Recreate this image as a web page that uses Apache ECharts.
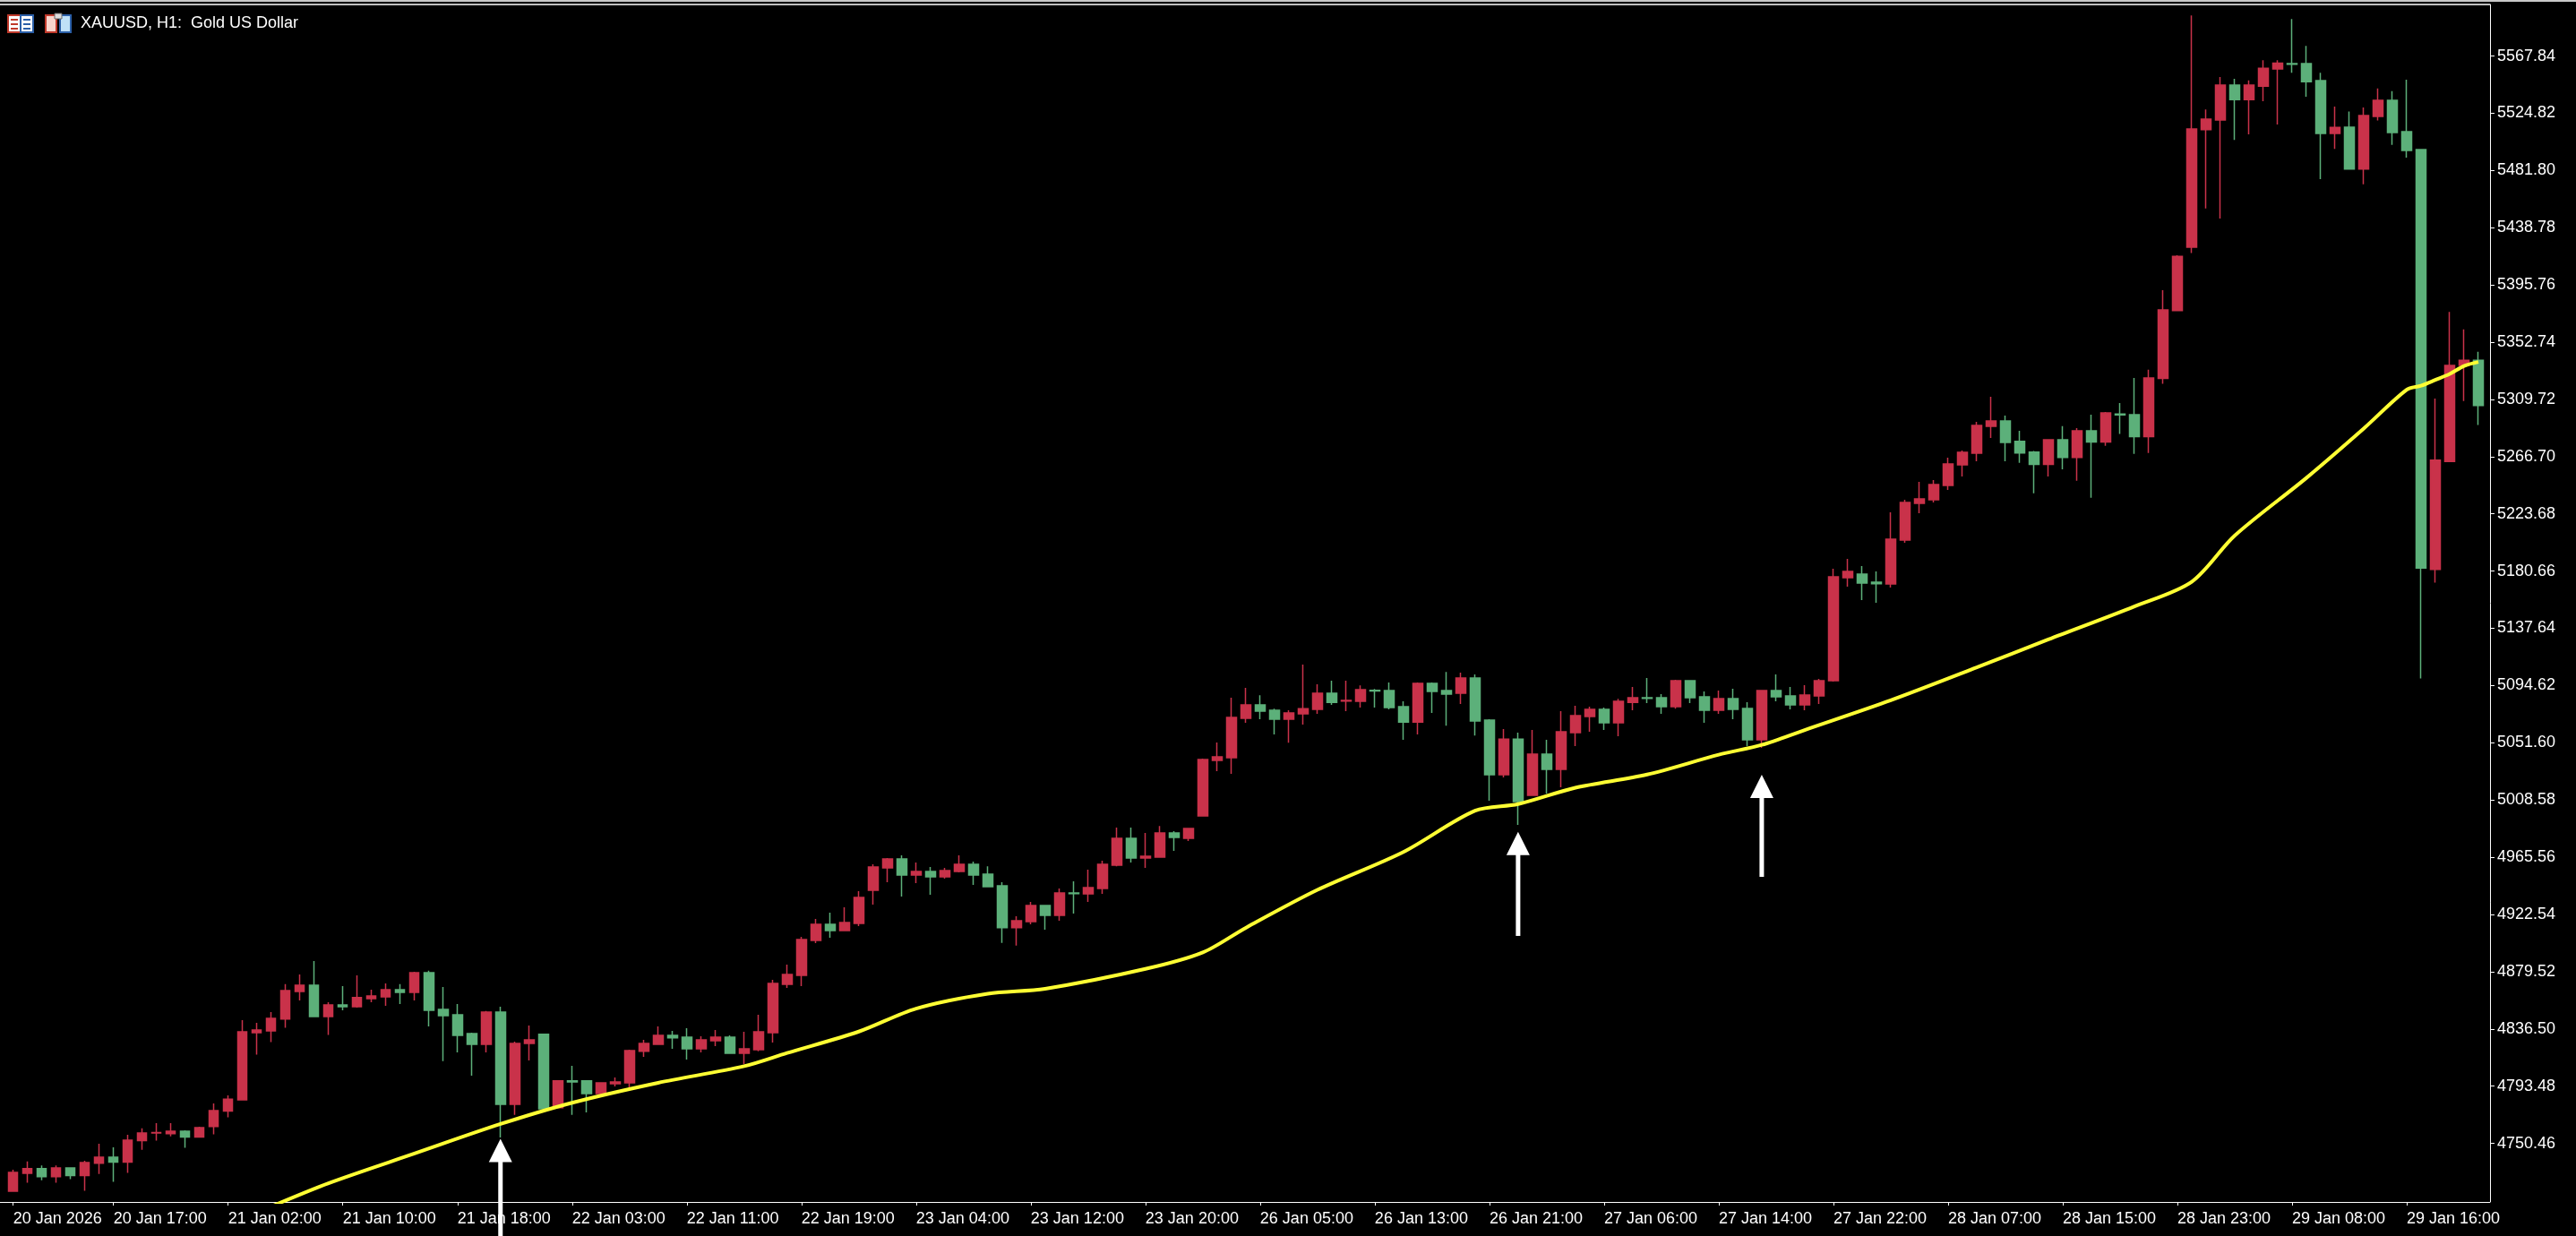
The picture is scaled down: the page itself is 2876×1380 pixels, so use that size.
<!DOCTYPE html>
<html><head><meta charset="utf-8">
<script src="https://cdn.jsdelivr.net/npm/echarts@6/dist/echarts.min.js"></script>
<style>html,body{margin:0;padding:0;background:#000}#c{width:2876px;height:1380px}</style>
</head><body><div id="c"></div>
<script>
// ---- data (H1 bars from 20 Jan 2026 10:00) ----
const openP = [4714.5,4728.0,4731.4,4725.5,4732.0,4726.2,4735.6,4740.1,4736.3,4752.5,4758.2,4757.8,4759.6,4755.2,4763.2,4774.7,4783.2,4833.7,4835.0,4844.0,4864.7,4869.4,4845.8,4854.6,4853.2,4859.3,4860.6,4866.0,4864.0,4878.8,4851.2,4847.2,4833.0,4824.9,4849.2,4779.8,4825.6,4832.4,4777.2,4797.4,4797.4,4787.9,4795.3,4796.0,4819.6,4824.9,4831.7,4830.3,4821.6,4827.6,4830.3,4818.2,4820.9,4833.7,4870.0,4876.8,4903.0,4915.2,4910.4,4915.8,4940.7,4957.6,4964.3,4952.2,4954.9,4950.8,4954.9,4960.3,4952.8,4944.0,4912.6,4917.1,4929.2,4921.8,4938.7,4938.0,4942.0,4959.5,4979.7,4965.0,4965.6,4983.8,4979.7,4996.6,5038.3,5040.3,5070.0,5080.0,5076.0,5069.3,5073.3,5076.7,5088.8,5083.0,5082.7,5091.1,5090.8,5078.7,5067.2,5096.2,5090.8,5088.8,5100.2,5068.6,5027.5,5054.4,5012.0,5043.0,5031.6,5059.2,5071.3,5076.7,5066.6,5082.0,5085.4,5085.4,5078.7,5098.2,5086.1,5076.0,5084.8,5077.4,5053.8,5090.8,5086.8,5080.1,5086.8,5098.2,5175.7,5178.4,5172.3,5170.9,5204.0,5231.5,5234.2,5245.0,5260.5,5269.2,5289.4,5293.5,5278.2,5270.2,5260.8,5279.3,5266.1,5286.1,5277.7,5298.8,5298.3,5281.8,5325.5,5376.5,5424.1,5512.5,5519.8,5546.0,5535.1,5545.2,5558.2,5562.1,5562.1,5549.3,5509.7,5514.3,5482.8,5522.5,5534.5,5511.0,5497.5,5182.0,5263.1,5335.2,5339.1];
const closeP = [4728.7,4731.4,4725.5,4732.0,4726.2,4736.1,4740.1,4736.3,4752.9,4758.3,4758.6,4759.6,4755.2,4762.3,4775.1,4783.7,4834.4,4835.7,4844.5,4865.3,4869.4,4845.8,4854.6,4853.2,4860.0,4861.3,4866.0,4864.0,4878.8,4850.5,4846.5,4831.7,4824.9,4849.2,4779.8,4825.6,4828.3,4776.5,4797.4,4796.7,4787.9,4796.0,4796.7,4820.2,4825.6,4831.7,4829.7,4821.6,4828.3,4830.3,4818.2,4821.6,4834.4,4870.7,4877.5,4903.7,4915.2,4910.4,4916.5,4935.3,4958.2,4964.3,4952.2,4954.9,4950.8,4955.6,4960.3,4952.2,4943.4,4912.6,4917.8,4929.2,4921.8,4938.7,4938.2,4942.7,4960.2,4979.7,4964.9,4966.3,4983.8,4980.4,4987.1,5039.0,5041.0,5070.6,5080.0,5075.3,5069.3,5074.0,5077.3,5088.8,5082.0,5083.5,5091.5,5090.5,5078.0,5067.2,5096.2,5090.1,5088.1,5100.2,5067.9,5027.5,5054.4,5007.3,5043.0,5031.6,5059.8,5072.0,5076.7,5066.6,5082.7,5085.4,5085.0,5078.7,5098.2,5085.4,5076.0,5084.8,5076.7,5053.8,5090.8,5086.1,5080.1,5087.5,5098.2,5176.3,5180.4,5171.6,5171.2,5204.6,5232.2,5234.9,5245.7,5261.2,5269.9,5290.1,5293.5,5277.3,5269.5,5260.8,5279.3,5266.1,5286.1,5277.7,5299.5,5298.1,5281.8,5325.8,5377.0,5417.3,5513.0,5520.5,5546.0,5535.1,5546.0,5558.7,5562.5,5561.6,5548.6,5509.7,5514.2,5482.8,5523.1,5534.5,5510.4,5496.9,5182.9,5264.0,5335.2,5339.1,5305.2];
const lowP = [4713.9,4720.8,4722.8,4720.8,4723.5,4714.8,4727.5,4721.5,4728.2,4745.7,4752.5,4755.8,4747.1,4755.2,4757.2,4770.0,4783.2,4817.1,4826.5,4837.3,4857.9,4845.4,4831.9,4850.5,4852.5,4856.6,4853.9,4855.2,4857.9,4838.4,4812.2,4818.9,4801.4,4818.9,4754.9,4771.8,4812.8,4775.8,4777.2,4771.8,4773.8,4785.2,4793.3,4792.6,4815.5,4824.9,4821.6,4813.5,4818.9,4823.6,4818.2,4810.1,4819.6,4826.3,4867.4,4868.7,4901.0,4905.1,4910.4,4913.8,4930.0,4946.8,4936.0,4946.1,4937.4,4949.5,4954.2,4944.8,4942.9,4901.2,4899.2,4915.1,4911.0,4917.8,4923.2,4931.9,4938.0,4958.8,4961.5,4957.5,4965.6,4970.3,4977.7,4996.6,5030.2,5028.2,5066.6,5069.3,5057.8,5051.7,5065.2,5073.3,5080.0,5075.3,5078.0,5078.0,5076.7,5053.8,5057.8,5074.0,5064.5,5080.7,5057.1,5008.0,5025.5,4989.8,5012.0,5013.4,5018.1,5049.1,5059.8,5061.2,5056.5,5076.0,5081.4,5073.3,5077.3,5081.4,5066.6,5073.3,5069.3,5049.1,5047.8,5082.8,5076.7,5076.0,5080.7,5097.6,5168.9,5158.8,5156.8,5168.2,5201.9,5224.1,5232.2,5241.6,5251.7,5263.2,5280.7,5263.2,5262.0,5239.2,5251.7,5257.2,5248.6,5235.8,5274.8,5283.7,5268.8,5269.5,5321.4,5376.5,5419.7,5453.2,5445.7,5504.8,5508.9,5533.9,5516.4,5555.3,5537.3,5475.3,5498.1,5482.8,5471.4,5519.4,5501.1,5491.5,5100.0,5172.0,5263.1,5308.5,5290.5];
const highP = [4730.7,4736.8,4733.8,4733.8,4732.0,4737.4,4750.2,4747.5,4756.9,4761.7,4765.7,4765.7,4760.3,4763.0,4780.5,4786.6,4843.1,4841.1,4849.2,4870.1,4877.5,4887.6,4856.6,4868.7,4876.8,4866.0,4870.7,4870.1,4879.5,4880.2,4868.0,4855.2,4833.7,4849.9,4853.2,4827.0,4839.1,4833.0,4798.0,4808.8,4797.4,4796.0,4800.0,4820.9,4828.3,4838.4,4835.0,4837.1,4831.0,4835.7,4831.7,4834.4,4847.2,4873.4,4884.9,4905.7,4919.2,4923.9,4927.9,4940.1,4960.3,4965.0,4967.0,4961.6,4958.2,4957.6,4967.0,4962.3,4958.8,4946.7,4921.2,4931.9,4929.2,4942.0,4947.4,4956.2,4962.9,4987.8,4987.8,4983.8,4989.1,4985.1,4987.1,5039.6,5051.8,5085.4,5092.8,5087.4,5077.3,5076.0,5110.3,5095.5,5098.2,5098.2,5094.8,5092.1,5096.9,5082.7,5096.9,5096.9,5104.9,5104.3,5102.9,5069.3,5061.9,5059.2,5061.2,5053.8,5075.3,5079.4,5078.7,5078.0,5084.7,5093.5,5100.2,5088.1,5098.9,5098.2,5090.2,5090.8,5092.2,5082.1,5090.8,5103.0,5093.5,5094.9,5099.6,5182.4,5189.8,5184.4,5180.4,5224.8,5234.2,5247.7,5249.0,5265.9,5271.3,5292.8,5311.7,5297.5,5286.1,5270.9,5279.3,5289.7,5288.2,5298.3,5300.3,5307.0,5325.8,5332.0,5391.9,5418.0,5598.4,5527.7,5552.0,5550.8,5549.6,5564.7,5564.7,5595.7,5575.5,5555.3,5529.8,5526.1,5529.1,5543.5,5541.4,5550.1,5497.5,5310.3,5375.5,5362.3,5345.5];
// moving average readings: [bar index, value]
const maPoints = [[17,4698],[18,4703],[22,4720.5],[28,4742.8],[34,4765],[39,4781],[45,4796],[51,4808.5],[54,4818.4],[59,4834.5],[63,4851.8],[68,4863],[72,4866.7],[79,4881.6],[83,4894],[86,4912.5],[91,4941],[97,4969.5],[102,5000.5],[105,5005.5],[109,5017.8],[114,5027.7],[119,5042.6],[122,5050],[125,5061.2],[131,5083.5],[137,5108.2],[142,5129.3],[148,5154.1],[152,5172.6],[155,5207.3],[160,5250.7],[164,5287.8],[167,5317],[168,5320],[169,5324.4],[170,5328.9],[171,5334.9],[172,5337.9]];
// trading days and hours
const sessionDays = [{d:'20 Jan',from:10,to:23},{d:'21 Jan',from:1,to:23},{d:'22 Jan',from:1,to:23},{d:'23 Jan',from:1,to:23},{d:'26 Jan',from:1,to:23},{d:'27 Jan',from:1,to:23},{d:'28 Jan',from:1,to:23},{d:'29 Jan',from:1,to:22}];
const yTicks = [4750.46,4793.48,4836.50,4879.52,4922.54,4965.56,5008.58,5051.60,5094.62,5137.64,5180.66,5223.68,5266.70,5309.72,5352.74,5395.76,5438.78,5481.80,5524.82,5567.84];
// arrows: [bar index, tail price, tip price]
const arrowIdx = [34,105,122];
const arrowTail = [4680,4906.4,4950.8];
const arrowTip = [4753.8,4984.7,5027.6];

const cats = [];
sessionDays.forEach(s=>{for(let h=s.from;h<=s.to;h++){cats.push(s.d+' '+String(h).padStart(2,'0')+':00');}});
const n = openP.length;
const categories = cats.slice(0,n);
const ohlc = openP.map((o,i)=>[o,closeP[i],lowP[i],highP[i]]);
const ma = new Array(n).fill(null);
maPoints.forEach(p=>{ma[p[0]]=p[1];});
const arrowData = arrowIdx.map((i,k)=>[i,arrowTail[k],arrowTip[k]]);

const F = '"Liberation Sans", "DejaVu Sans", sans-serif';
const chart = echarts.init(document.getElementById('c'));
chart.setOption({
  backgroundColor:'#000',
  animation:false,
  grid:{left:6.7,right:101,top:5,bottom:38},
  xAxis:{type:'category',data:categories,boundaryGap:true,
    axisLine:{lineStyle:{color:'#fff',width:1}},
    axisTick:{show:true,length:4,lineStyle:{color:'#fff'},interval:(i)=>i===0||i%8===7,alignWithLabel:true},
    axisLabel:{color:'#fff',fontFamily:F,fontSize:18,align:'left',margin:10,
      interval:(i)=>i===0||i%8===7,
      formatter:(v,i)=>i===0?'20 Jan 2026':v},
    splitLine:{show:false}},
  yAxis:{type:'value',position:'right',offset:5,min:4706.4,max:5606.6,scale:true,
    axisLine:{show:true,lineStyle:{color:'#fff',width:1}},
    axisTick:{show:true,length:5,inside:false,customValues:yTicks,lineStyle:{color:'#fff'}},
    axisLabel:{color:'#fff',fontFamily:F,fontSize:18,margin:8,customValues:yTicks,formatter:v=>v.toFixed(2)},
    splitLine:{show:false}},
  series:[
    {type:'candlestick',data:ohlc,barWidth:11,
      itemStyle:{color:'#c9324a',color0:'#5cb07a',borderColor:'#c9324a',borderColor0:'#5cb07a',borderWidth:1.5}},
    {type:'line',data:ma,connectNulls:true,smooth:0.3,showSymbol:false,
      lineStyle:{color:'#ffff33',width:4},z:3},
    {type:'custom',data:arrowData,clip:false,z:5,silent:true,
      renderItem:(params,api)=>{
        const tail=api.coord([api.value(0),api.value(1)]);
        const tip=api.coord([api.value(0),api.value(2)]);
        const x=tip[0];
        return {type:'group',children:[
          {type:'rect',shape:{x:x-2.5,y:tip[1]+24,width:5,height:tail[1]-tip[1]-24},style:{fill:'#fff'}},
          {type:'polygon',shape:{points:[[x,tip[1]],[x-13,tip[1]+26],[x+13,tip[1]+26]]},style:{fill:'#fff'}}
        ]};
      }}
  ],
  graphic:[
    {type:'rect',shape:{x:0,y:0,width:2876,height:2},style:{fill:'#c8c8c8'},silent:true},
    {type:'line',shape:{x1:0,y1:5,x2:2780,y2:5},style:{stroke:'#fff',lineWidth:1.5},silent:true},
    {type:'line',shape:{x1:0,y1:1342.5,x2:2780,y2:1342.5},style:{stroke:'#fff',lineWidth:1},silent:true},
    {type:'rect',shape:{x:9,y:17,width:28,height:19},style:{fill:'#fff',stroke:'#c0392b',lineWidth:2},silent:true},
    {type:'rect',shape:{x:23,y:17,width:14,height:19},style:{fill:'#fff',stroke:'#2b5fa8',lineWidth:2},silent:true},
    {type:'rect',shape:{x:12,y:21,width:8,height:2},style:{fill:'#c0392b'},silent:true},
    {type:'rect',shape:{x:12,y:26,width:8,height:2},style:{fill:'#c0392b'},silent:true},
    {type:'rect',shape:{x:12,y:31,width:8,height:2},style:{fill:'#c0392b'},silent:true},
    {type:'rect',shape:{x:26,y:21,width:8,height:2},style:{fill:'#2b5fa8'},silent:true},
    {type:'rect',shape:{x:26,y:26,width:8,height:2},style:{fill:'#2b5fa8'},silent:true},
    {type:'rect',shape:{x:26,y:31,width:8,height:2},style:{fill:'#2b5fa8'},silent:true},
    {type:'rect',shape:{x:51,y:17,width:12,height:19},style:{fill:'#f9d5cc',stroke:'#c0392b',lineWidth:2},silent:true},
    {type:'rect',shape:{x:67,y:17,width:12,height:19},style:{fill:'#bfe0f7',stroke:'#2b5fa8',lineWidth:2},silent:true},
    {type:'rect',shape:{x:61,y:15,width:8,height:6},style:{fill:'#ddd',stroke:'#666',lineWidth:1},silent:true},
    {type:'text',x:90,y:26,style:{text:'XAUUSD, H1:  Gold US Dollar',fill:'#fff',font:'18px '+F,textVerticalAlign:'middle'},silent:true}
  ]
});
</script></body></html>
